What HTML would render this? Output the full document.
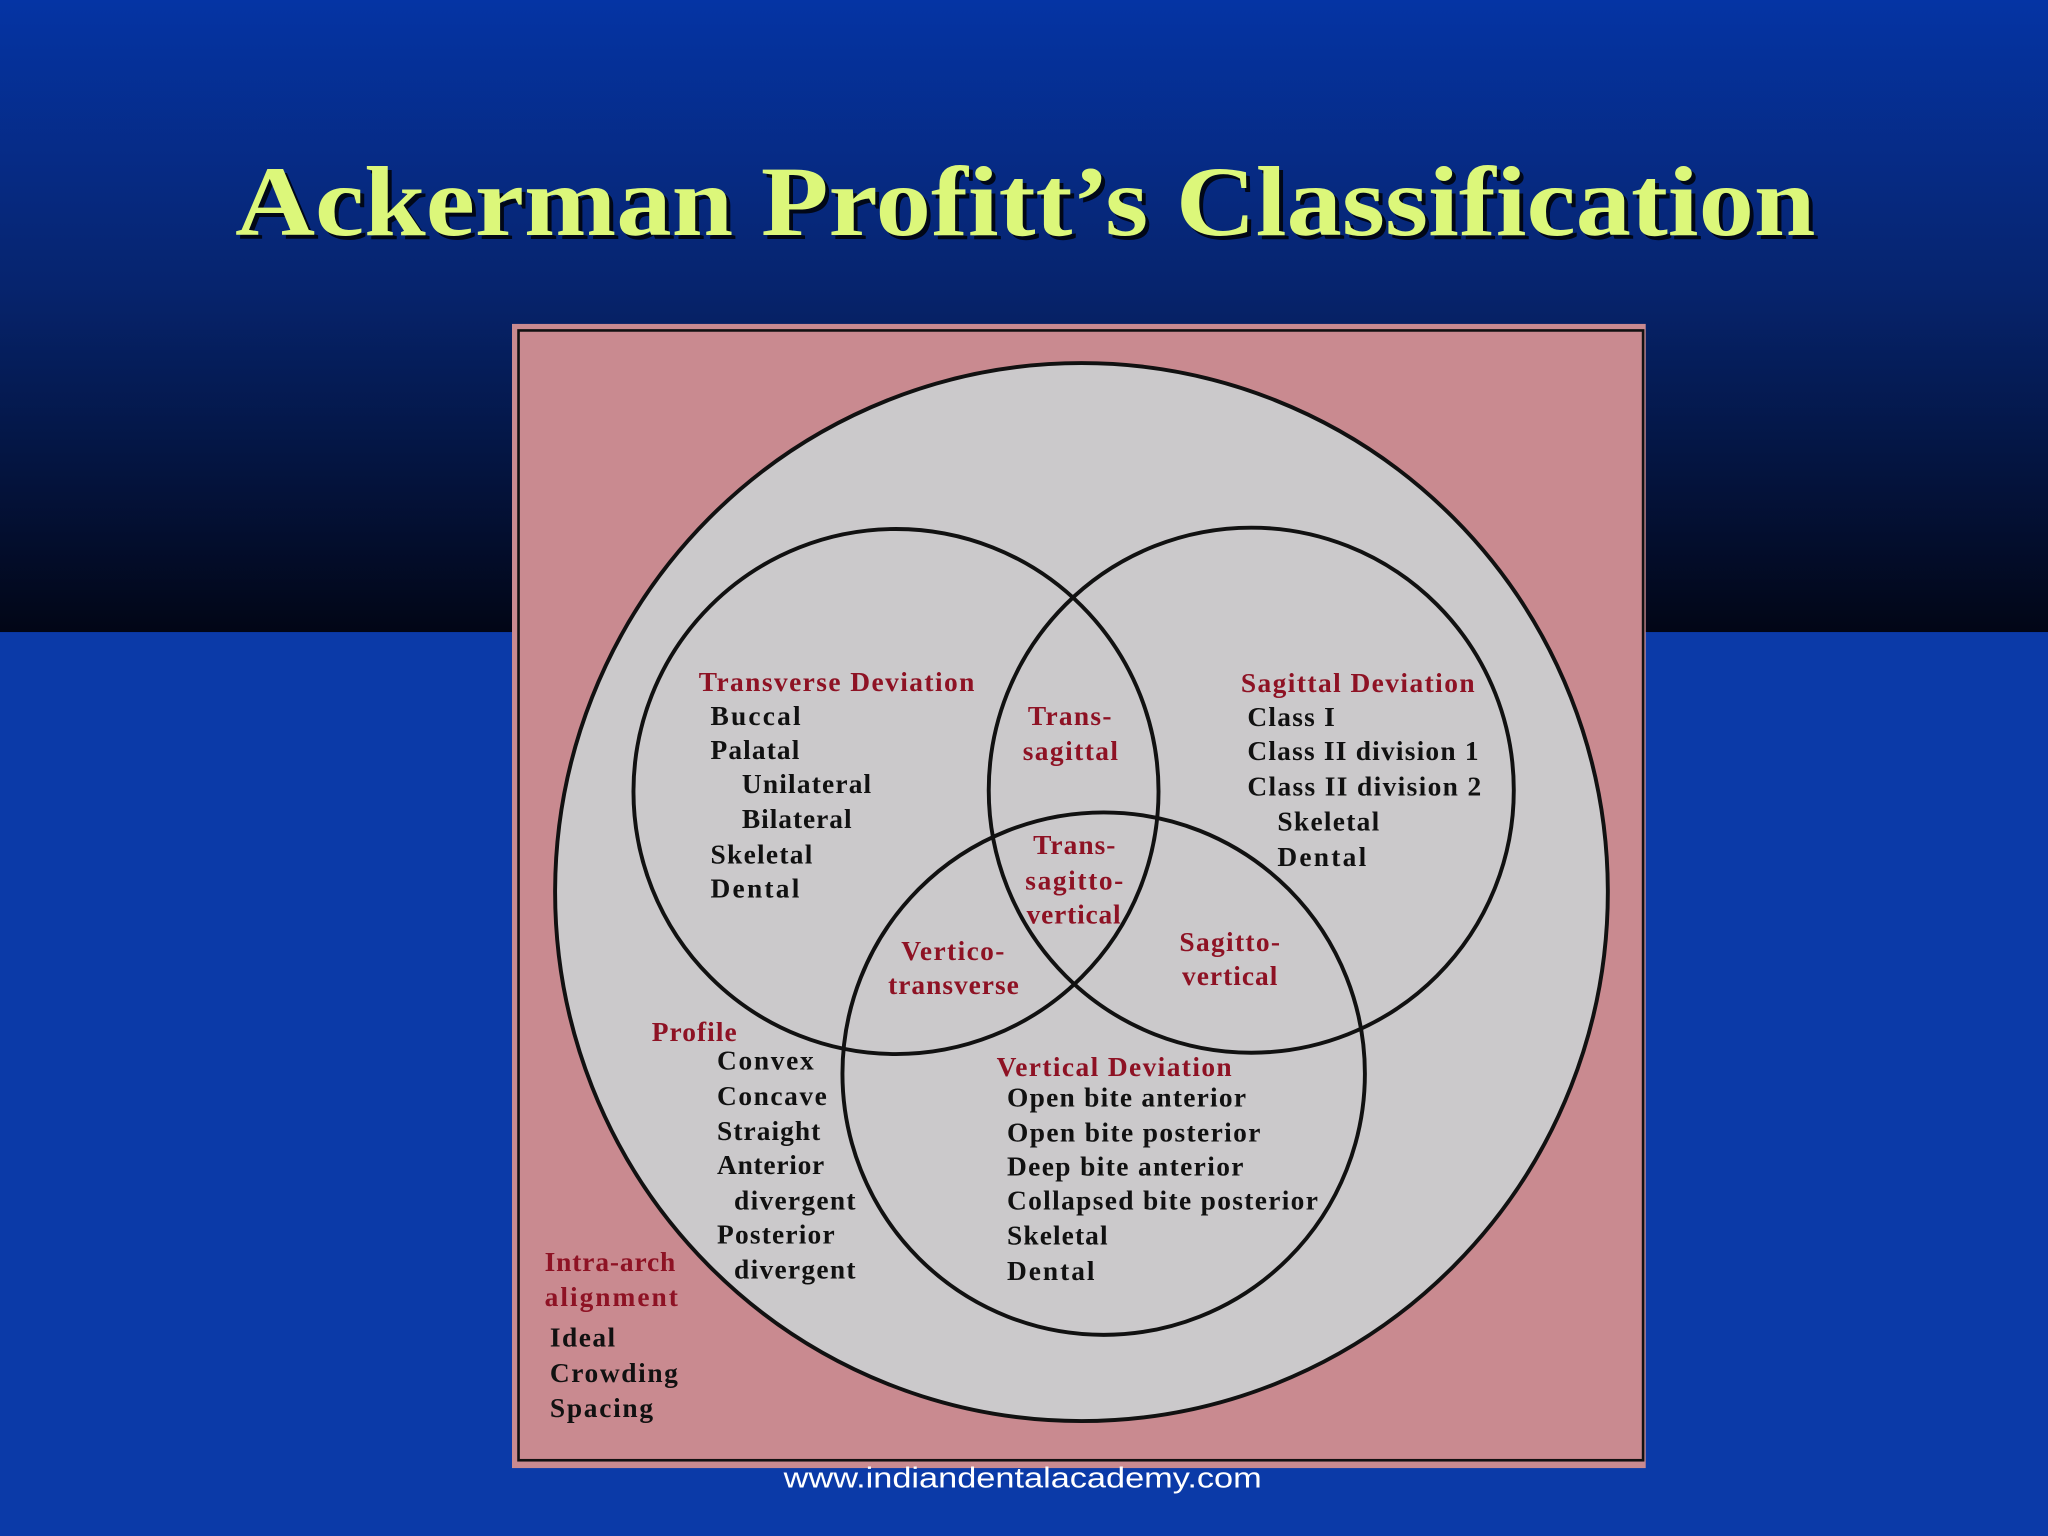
<!DOCTYPE html>
<html><head><meta charset="utf-8"><style>
html,body{margin:0;padding:0;width:2048px;height:1536px;overflow:hidden;background:#0b3aa6}
svg{display:block}
</style></head><body>
<svg width="2048" height="1536" viewBox="0 0 1568 1176" xmlns="http://www.w3.org/2000/svg">
<defs>
<linearGradient id="bg" x1="0" y1="0" x2="0" y2="1">
<stop offset="0" stop-color="#0534a4"/>
<stop offset="0.45" stop-color="#06246e"/>
<stop offset="1" stop-color="#020616"/>
</linearGradient>
</defs>
<rect x="0" y="0" width="1568" height="484" fill="url(#bg)"/>
<rect x="0" y="484" width="1568" height="692" fill="#0b3aa8"/>
<text x="183" y="183" textLength="1210" lengthAdjust="spacingAndGlyphs" font-family="Liberation Serif, serif" font-weight="bold" font-size="76" fill="#000" opacity="0.8">Ackerman Profitt’s Classification</text>
<text x="180" y="180" textLength="1210" lengthAdjust="spacingAndGlyphs" font-family="Liberation Serif, serif" font-weight="bold" font-size="76" fill="#dcf77a">Ackerman Profitt’s Classification</text>
<rect x="392" y="248" width="868" height="876" fill="#c98a90"/>
<rect x="397" y="253" width="861" height="865" fill="none" stroke="#111" stroke-width="2"/>
<ellipse cx="828" cy="683" rx="403" ry="405" fill="#cbc9cb" stroke="#111" stroke-width="3"/>
<g fill="none" stroke="#111" stroke-width="3">
<circle cx="686" cy="606" r="201"/>
<circle cx="958" cy="605" r="201"/>
<circle cx="845" cy="822" r="200"/>
</g>
<g font-family="Liberation Serif, serif" font-weight="bold" font-size="21" lengthAdjust="spacingAndGlyphs">
<g fill="#8e1224">
<text x="535" y="529" textLength="211">Transverse Deviation</text>
<text x="950" y="530" textLength="179">Sagittal Deviation</text>
<text x="499" y="797" textLength="65">Profile</text>
<text x="763" y="824" textLength="180">Vertical Deviation</text>
<text x="417" y="973" textLength="100">Intra-arch</text>
<text x="417" y="1000" textLength="102">alignment</text>
<text x="787" y="555" textLength="64">Trans-</text>
<text x="783" y="582" textLength="73">sagittal</text>
<text x="791" y="654" textLength="63">Trans-</text>
<text x="785" y="681" textLength="75">sagitto-</text>
<text x="786" y="707" textLength="72">vertical</text>
<text x="690" y="735" textLength="79">Vertico-</text>
<text x="680" y="761" textLength="100">transverse</text>
<text x="903" y="728" textLength="77">Sagitto-</text>
<text x="905" y="754" textLength="73">vertical</text>
</g>
<g fill="#111">
<text x="544" y="555" textLength="69">Buccal</text>
<text x="544" y="581" textLength="68">Palatal</text>
<text x="568" y="607" textLength="99">Unilateral</text>
<text x="568" y="634" textLength="84">Bilateral</text>
<text x="544" y="661" textLength="78">Skeletal</text>
<text x="544" y="687" textLength="68">Dental</text>
<text x="955" y="556" textLength="67">Class I</text>
<text x="955" y="582" textLength="177">Class II division 1</text>
<text x="955" y="609" textLength="179">Class II division 2</text>
<text x="978" y="636" textLength="78">Skeletal</text>
<text x="978" y="663" textLength="68">Dental</text>
<text x="549" y="819" textLength="74">Convex</text>
<text x="549" y="846" textLength="84">Concave</text>
<text x="549" y="873" textLength="79">Straight</text>
<text x="549" y="899" textLength="82">Anterior</text>
<text x="562" y="926" textLength="93">divergent</text>
<text x="549" y="952" textLength="90">Posterior</text>
<text x="562" y="979" textLength="93">divergent</text>
<text x="771" y="847" textLength="183">Open bite anterior</text>
<text x="771" y="874" textLength="194">Open bite posterior</text>
<text x="771" y="900" textLength="181">Deep bite anterior</text>
<text x="771" y="926" textLength="238">Collapsed bite posterior</text>
<text x="771" y="953" textLength="77">Skeletal</text>
<text x="771" y="980" textLength="67">Dental</text>
<text x="421" y="1031" textLength="50">Ideal</text>
<text x="421" y="1058" textLength="98">Crowding</text>
<text x="421" y="1085" textLength="79">Spacing</text>
</g>
</g>
<text x="600" y="1139" textLength="366" lengthAdjust="spacingAndGlyphs" font-family="Liberation Sans, sans-serif" font-size="22" fill="#ffffff">www.indiandentalacademy.com</text>
</svg>
</body></html>
